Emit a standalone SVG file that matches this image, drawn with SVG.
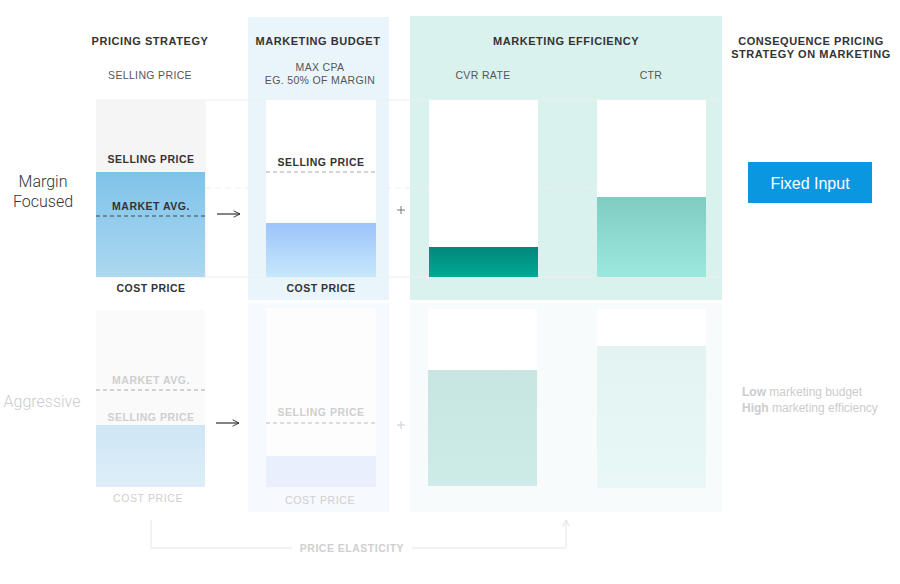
<svg xmlns="http://www.w3.org/2000/svg" width="900" height="584" viewBox="0 0 900 584">
<defs>
<linearGradient id="gPrice" x1="0" y1="0" x2="0" y2="1"><stop offset="0" stop-color="#7fc3ea"/><stop offset="1" stop-color="#acd8f0"/></linearGradient>
<linearGradient id="gBudget" x1="0" y1="0" x2="0" y2="1"><stop offset="0" stop-color="#9cc4fa"/><stop offset="1" stop-color="#c6e8fb"/></linearGradient>
<linearGradient id="gCvr" x1="0" y1="0" x2="0" y2="1"><stop offset="0" stop-color="#00877a"/><stop offset="1" stop-color="#00a994"/></linearGradient>
<linearGradient id="gCtr" x1="0" y1="0" x2="0" y2="1"><stop offset="0" stop-color="#80cbc2"/><stop offset="1" stop-color="#9ce8de"/></linearGradient>
<linearGradient id="gPrice2" x1="0" y1="0" x2="0" y2="1"><stop offset="0" stop-color="#cfe6f6"/><stop offset="1" stop-color="#ddeef8"/></linearGradient>
<linearGradient id="gCvr2" x1="0" y1="0" x2="0" y2="1"><stop offset="0" stop-color="#c8e5e2"/><stop offset="1" stop-color="#cdebe8"/></linearGradient>
<linearGradient id="gCtr2" x1="0" y1="0" x2="0" y2="1"><stop offset="0" stop-color="#e2f3f2"/><stop offset="1" stop-color="#e9f8f7"/></linearGradient>
<marker id="arr" viewBox="0 0 10 10" refX="9" refY="5" markerWidth="8" markerHeight="8" orient="auto" markerUnits="userSpaceOnUse"><path d="M1,1 L9,5 L1,9" fill="none" stroke="#333" stroke-width="1.2"/></marker>
<marker id="arrFaint" viewBox="0 0 10 10" refX="9" refY="5" markerWidth="8" markerHeight="8" orient="auto" markerUnits="userSpaceOnUse"><path d="M1,1 L9,5 L1,9" fill="none" stroke="#ddd" stroke-width="1.2"/></marker>
</defs>
<style>
text{font-family:"Liberation Sans",Arial,sans-serif}
.h{font-size:11px;font-weight:bold;fill:#333;letter-spacing:0.55px;text-anchor:middle}
.s{font-size:10.5px;fill:#555;letter-spacing:0.35px;text-anchor:middle}
.l{font-size:10.5px;font-weight:bold;fill:#333;letter-spacing:0.5px;text-anchor:middle}
.lf{font-size:10.5px;font-weight:bold;fill:#cfcfcf;letter-spacing:0.5px;text-anchor:middle}
.lfn{font-size:10.5px;fill:#cfcfcf;letter-spacing:0.6px;text-anchor:middle}
.row{font-family:Roboto,"Liberation Sans",sans-serif;font-size:16px;font-weight:300;text-anchor:middle}
.faint{stroke:#eeeeee;stroke-width:1;fill:none}
.dash{stroke:#444;stroke-width:1;stroke-dasharray:4 3}
.dashf{stroke:#aaa;stroke-width:1;stroke-dasharray:4 3}
</style>
<rect width="900" height="584" fill="#fff"/>

<!-- column backgrounds -->
<g id="bg">
<rect x="248" y="17" width="141" height="283" fill="#eaf5fb"/>
<rect x="410" y="16" width="312" height="284" fill="#d9f2ee"/>
<rect x="248" y="303" width="141" height="209" fill="#f6f9fd"/>
<rect x="410" y="303" width="312" height="209" fill="#f7fbfb"/>
</g>

<!-- headers -->
<g id="headers">
<text class="h" x="150" y="45">PRICING STRATEGY</text>
<text class="s" x="150" y="79">SELLING PRICE</text>
<text class="h" x="318" y="45">MARKETING BUDGET</text>
<text class="s" x="320" y="71">MAX CPA</text>
<text class="s" x="320" y="84">EG. 50% OF MARGIN</text>
<text class="h" x="566" y="45">MARKETING EFFICIENCY</text>
<text class="s" x="483" y="79">CVR RATE</text>
<text class="s" x="651" y="79">CTR</text>
<text class="h" x="811" y="45">CONSEQUENCE PRICING</text>
<text class="h" x="811" y="58">STRATEGY ON MARKETING</text>
</g>

<!-- faint guide lines -->
<g id="guides">
<line class="faint" x1="96" y1="100" x2="720" y2="100"/>
<line class="faint" x1="205" y1="188" x2="600" y2="188" stroke-dasharray="6 4"/>
<line class="faint" x1="96" y1="277" x2="720" y2="277"/>
<line class="faint" x1="205" y1="100" x2="205" y2="277"/>
</g>

<!-- row labels -->
<g id="row-margin"><text class="row" x="43" y="187" fill="#333">Margin</text><text class="row" x="43" y="207" fill="#333">Focused</text></g>
<g id="row-aggressive"><text class="row" x="42" y="407" fill="#cccccc">Aggressive</text></g>

<!-- top row -->
<g id="pricing-top">
<rect x="96" y="100" width="109" height="72" fill="#f5f5f5"/>
<rect x="96" y="172" width="109" height="105" fill="url(#gPrice)"/>
<line class="dash" x1="96" y1="216" x2="205" y2="216"/>
<text class="l" x="151" y="163">SELLING PRICE</text>
<text class="l" x="151" y="210">MARKET AVG.</text>
<text class="l" x="151" y="292">COST PRICE</text>
</g>
<g id="budget-top">
<rect x="266" y="100" width="110" height="177" fill="#ffffff"/>
<rect x="266" y="223" width="110" height="54" fill="url(#gBudget)"/>
<line class="dashf" x1="266" y1="172" x2="376" y2="172"/>
<text class="l" x="321" y="166">SELLING PRICE</text>
<text class="l" x="321" y="292">COST PRICE</text>
</g>
<g id="cvr-top">
<rect x="429" y="100" width="109" height="177" fill="#ffffff"/>
<rect x="429" y="247" width="109" height="30" fill="url(#gCvr)"/>
</g>
<g id="ctr-top">
<rect x="597" y="100" width="109" height="177" fill="#ffffff"/>
<rect x="597" y="197" width="109" height="80" fill="url(#gCtr)"/>
</g>
<g id="fixed-input">
<rect x="748" y="162" width="124" height="41" fill="#0b97e0"/>
<text x="810" y="189" font-family="Roboto, 'Liberation Sans', sans-serif" font-size="16" font-weight="300" fill="#ffffff" text-anchor="middle">Fixed Input</text>
</g>

<!-- bottom row -->
<g id="pricing-bottom">
<rect x="96" y="310" width="109" height="115" fill="#fafafa"/>
<rect x="96" y="425" width="109" height="62" fill="url(#gPrice2)"/>
<line class="dashf" x1="96" y1="390" x2="205" y2="390"/>
<text class="lf" x="151" y="384">MARKET AVG.</text>
<text class="lf" x="151" y="421">SELLING PRICE</text>
<text class="lfn" x="148" y="502">COST PRICE</text>
</g>
<g id="budget-bottom">
<rect x="266" y="308" width="110" height="179" fill="#fdfdfe"/>
<rect x="266" y="456" width="110" height="31" fill="#e9effc"/>
<line x1="266" y1="423" x2="376" y2="423" stroke="#bbb" stroke-width="1" stroke-dasharray="4 3"/>
<text class="lf" x="321" y="416">SELLING PRICE</text>
<text class="lfn" x="320" y="504">COST PRICE</text>
</g>
<g id="cvr-bottom">
<rect x="428" y="309" width="109" height="177" fill="#ffffff"/>
<rect x="428" y="370" width="109" height="116" fill="url(#gCvr2)"/>
</g>
<g id="ctr-bottom">
<rect x="597" y="309" width="109" height="179" fill="#ffffff"/>
<rect x="597" y="346" width="109" height="142" fill="url(#gCtr2)"/>
</g>
<g id="consequence-bottom">
<text x="742" y="396" font-family="Roboto, 'Liberation Sans', sans-serif" font-size="12" fill="#cccccc"><tspan font-weight="bold">Low</tspan> marketing budget</text>
<text x="742" y="412" font-family="Roboto, 'Liberation Sans', sans-serif" font-size="12" fill="#cccccc"><tspan font-weight="bold">High</tspan> marketing efficiency</text>
</g>

<!-- connectors -->
<g id="connectors">
<line x1="217" y1="214" x2="240" y2="214" stroke="#333" stroke-width="1.2" marker-end="url(#arr)"/>
<line x1="216" y1="423" x2="239" y2="423" stroke="#333" stroke-width="1.2" marker-end="url(#arr)"/>
<path d="M397,210 h8 M401,206 v8" stroke="#777" stroke-width="1"/>
<path d="M397,425 h8 M401,421 v8" stroke="#ccc" stroke-width="1"/>
<path d="M151,520 V548 H292" fill="none" stroke="#e6e6e6" stroke-width="1"/>
<path d="M412,548 H566 V520" fill="none" stroke="#e6e6e6" stroke-width="1" marker-end="url(#arrFaint)"/>
<text class="lf" x="352" y="552" font-size="10.5">PRICE ELASTICITY</text>
</g>
</svg>
